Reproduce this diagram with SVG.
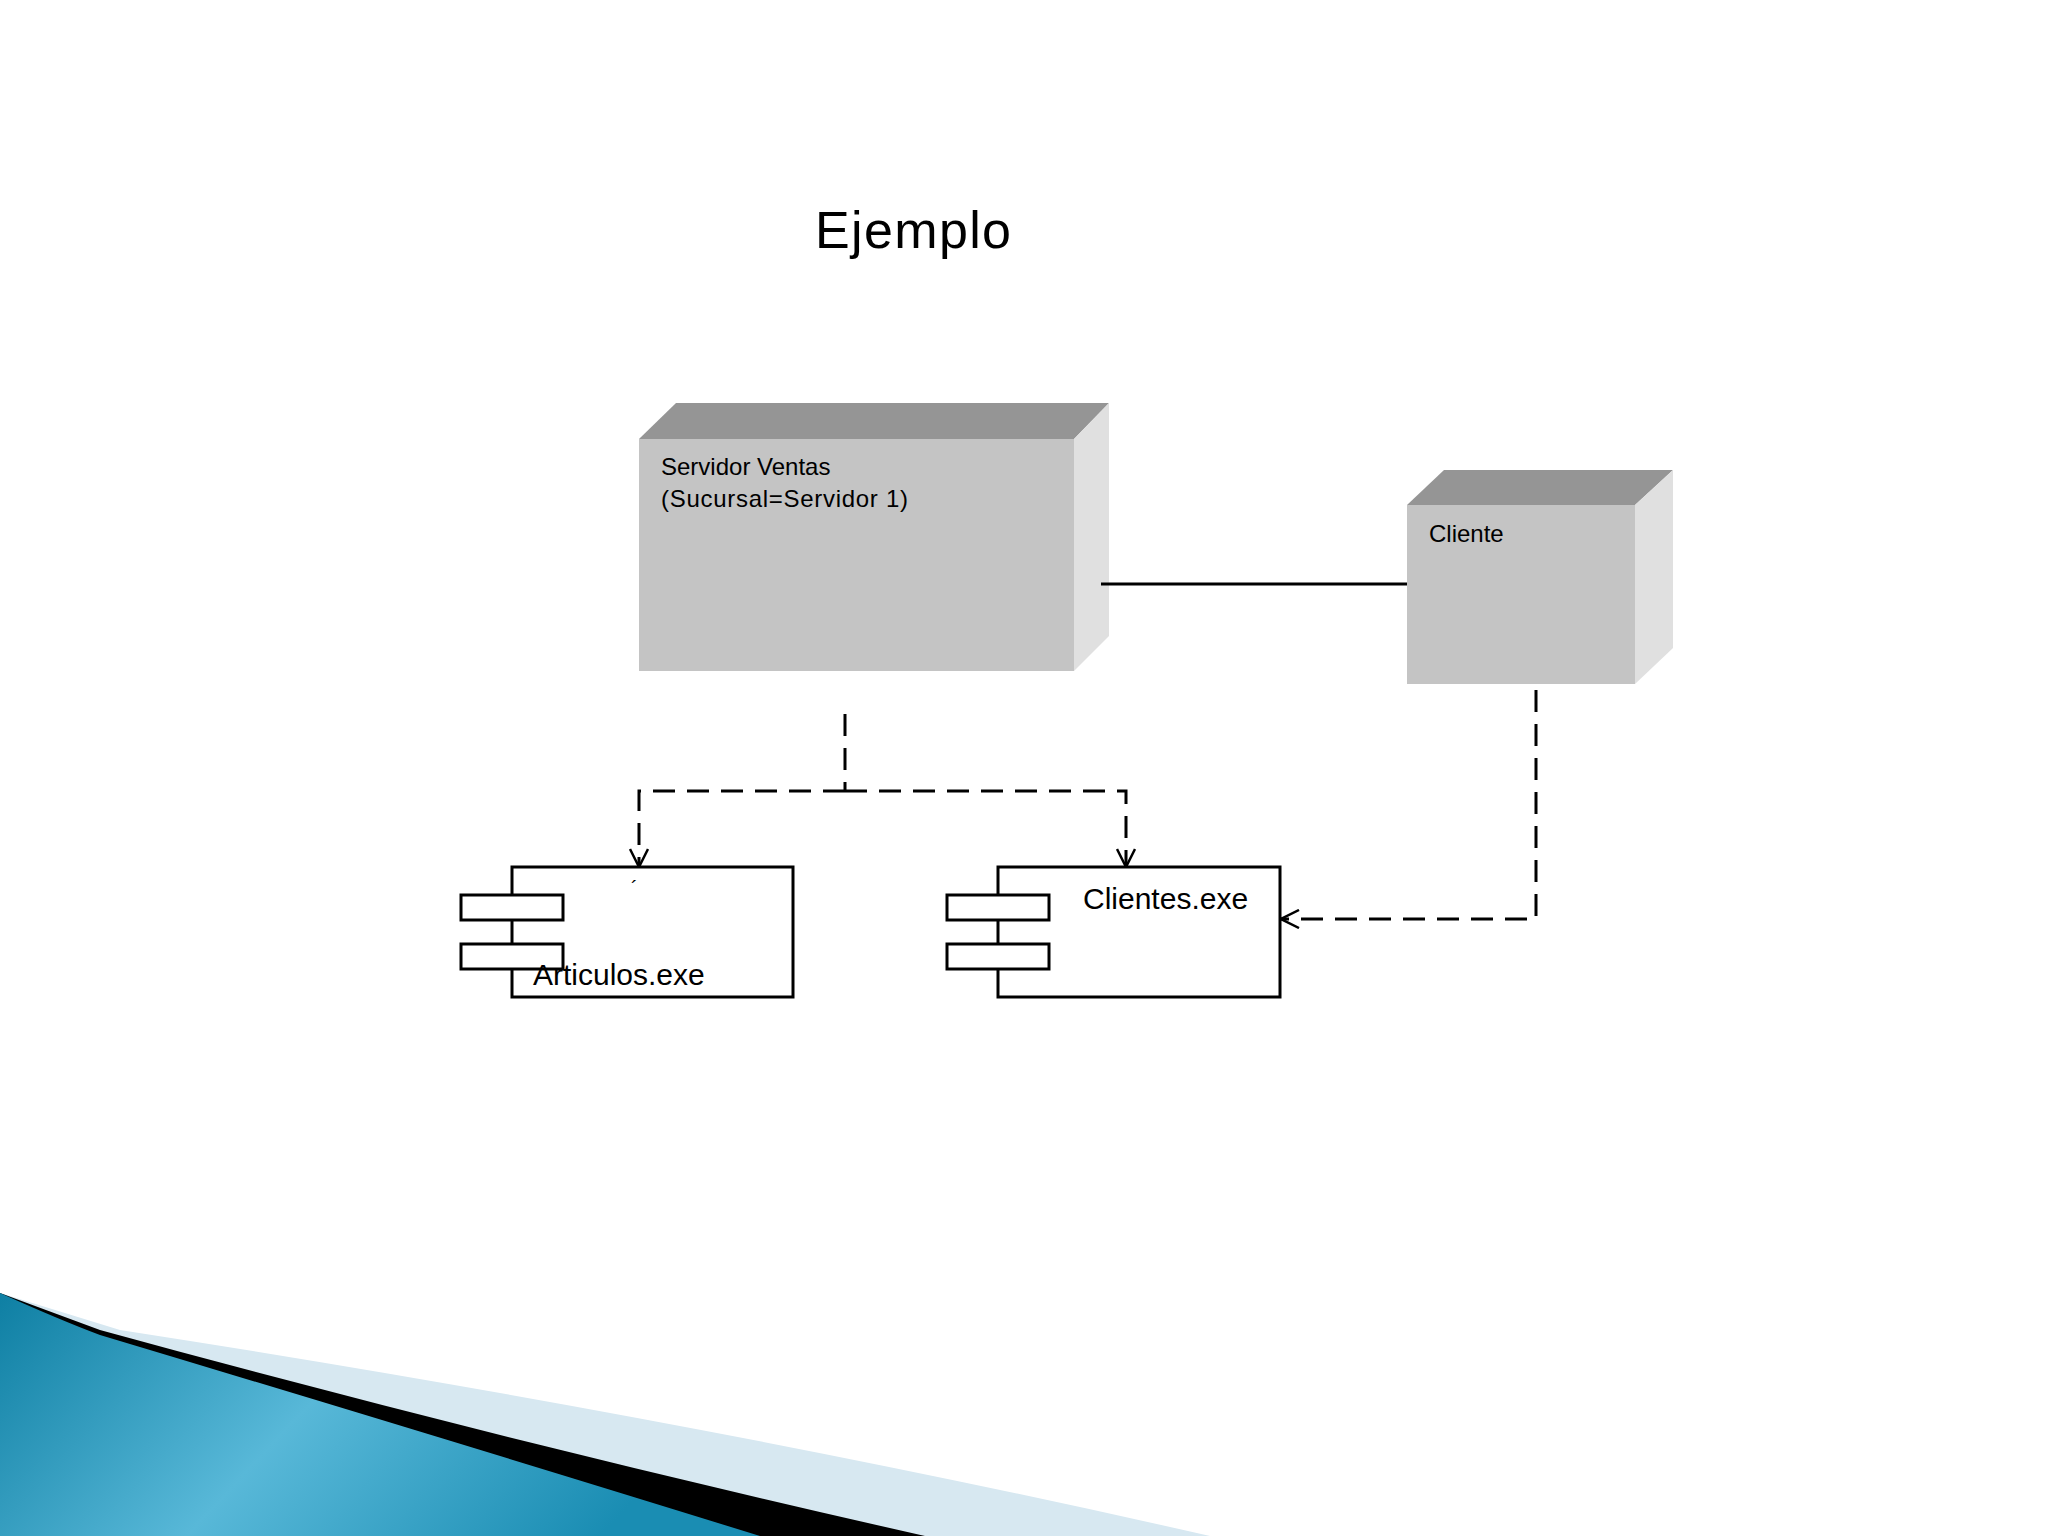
<svg xmlns="http://www.w3.org/2000/svg" width="2048" height="1536" viewBox="0 0 2048 1536">
<defs>
<style>
.t{font-family:"Liberation Sans",Arial,sans-serif;fill:#000}
.c{stroke:#000;stroke-width:3;fill:none}
.d{stroke:#000;stroke-width:3;fill:none;stroke-dasharray:22,12}
.box{fill:#fff;stroke:#000;stroke-width:3}
</style>
<marker id="ar" viewBox="0 0 20 20" refX="19" refY="10" markerWidth="20" markerHeight="20" markerUnits="userSpaceOnUse" orient="auto"><path d="M1,1 L19,10 L1,19" fill="none" stroke="#000" stroke-width="2.5"/></marker>
<linearGradient id="bl" x1="0" y1="0" x2="1" y2="0.3"><stop offset="0" stop-color="#0e7fa3"/><stop offset="0.5" stop-color="#58b8d8"/><stop offset="1" stop-color="#1a8db3"/></linearGradient>
</defs>
<rect width="2048" height="1536" fill="#fff"/>
<g id="swoosh">
<path d="M0,1293 L120,1330 Q700,1420 1210,1536 L0,1536Z" fill="#d7e8f1"/>
<path d="M0,1293 L100,1330 Q500,1440 925,1536 L0,1536Z" fill="#000"/>
<path d="M0,1293 Q60,1320 100,1335 Q450,1440 760,1536 L0,1536Z" fill="url(#bl)"/>
</g>
<text class="t" x="815" y="248" font-size="52" font-family="'Open Sans',sans-serif" textLength="196">Ejemplo</text>
<g id="servidor">
<polygon points="639,439 676,403 1109,403 1074,439" fill="#959595"/>
<polygon points="1074,439 1109,403 1109,636 1074,671" fill="#e0e0e0"/>
<rect x="639" y="439" width="435" height="232" fill="#c4c4c4"/>
<text class="t" x="661" y="475" font-size="24">Servidor Ventas</text>
<text class="t" x="661" y="507" font-size="24" textLength="247">(Sucursal=Servidor 1)</text>
</g>
<g id="cliente">
<polygon points="1407,505 1444,470 1673,470 1635,505" fill="#959595"/>
<polygon points="1635,505 1673,470 1673,648 1635,684" fill="#e0e0e0"/>
<rect x="1407" y="505" width="228" height="179" fill="#c4c4c4"/>
<text class="t" x="1429" y="542" font-size="24">Cliente</text>
</g>
<g id="articulos">
<rect class="box" x="512" y="867" width="281" height="130"/>
<rect class="box" x="461" y="895" width="102" height="25"/>
<rect class="box" x="461" y="944" width="102" height="25"/>
<text class="t" x="631" y="895" font-size="20">´</text>
<text class="t" x="533" y="985" font-size="30">Articulos.exe</text>
</g>
<g id="clientes">
<rect class="box" x="998" y="867" width="282" height="130"/>
<rect class="box" x="947" y="895" width="102" height="25"/>
<rect class="box" x="947" y="944" width="102" height="25"/>
<text class="t" x="1083" y="909" font-size="30">Clientes.exe</text>
</g>
<g id="connectors">
<line class="c" x1="1101" y1="584" x2="1407" y2="584"/>
<polyline class="d" points="845,714 845,791"/>
<polyline class="d" points="845,791 639,791 639,867" marker-end="url(#ar)"/>
<polyline class="d" points="845,791 1126,791 1126,867" marker-end="url(#ar)"/>
<polyline class="d" points="1536,690 1536,919 1281,919" marker-end="url(#ar)"/>
</g>
</svg>
